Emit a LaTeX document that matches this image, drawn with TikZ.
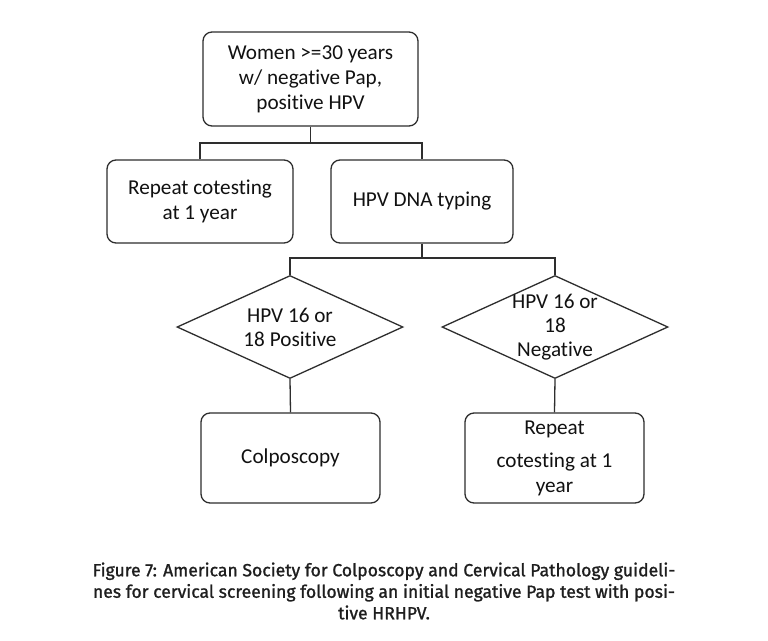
\documentclass[tikz,border=0pt]{standalone}
\usepackage{fontspec}
\setmainfont{Carlito}[Ligatures=NoCommon]
\newfontfamily\capfont{Fira Sans}[FakeBold=1.2]
\usetikzlibrary{shapes.geometric}
\definecolor{linec}{HTML}{2E2E2E}
\definecolor{textc}{HTML}{111111}
\definecolor{capc}{HTML}{1E1E1E}
\tikzset{
  boxstyle/.style={draw=linec, line width=1.3pt, rounded corners=9pt, inner sep=0pt, align=center, text=textc, font=\fontsize{21.2}{25}\selectfont},
  diastyle/.style={draw=linec, line width=1.3pt, shape=diamond, inner sep=0pt},
  txtstyle/.style={align=center, text=textc, inner sep=0pt, font=\fontsize{21.2}{24}\selectfont},
  conn/.style={draw=linec, line width=1.3pt},
  capstyle/.style={align=center, text=capc, inner sep=0pt, font=\capfont\fontsize{17.6}{21.5}\selectfont}
}
\begin{document}
\begin{tikzpicture}[x=1pt,y=-1pt]
\useasboundingbox[fill=white] (0,0) rectangle (768,640);
\node[boxstyle, minimum width=215pt, minimum height=94pt] (top) at (310.5,79) {Women >=30 years\\w/ negative Pap,\\positive HPV};
\node[boxstyle, minimum width=186pt, minimum height=83pt] (rep1) at (200,201.5) {Repeat cotesting\\at 1 year};
\node[boxstyle, minimum width=182pt, minimum height=83pt] (dna) at (422,201.5) {HPV DNA typing};
\node[diastyle, minimum width=226pt, minimum height=103pt] (dpos) at (290,327) {};
\node[txtstyle] (tpos) at (290,327) {HPV 16 or\\18 Positive};
\node[diastyle, minimum width=226pt, minimum height=103pt] (dneg) at (555,327) {};
\node[txtstyle] (tneg) at (555,327) {HPV 16 or\\18\\Negative};
\node[boxstyle, minimum width=179pt, minimum height=90pt] (colpo) at (290.5,458) {Colposcopy};
\node[boxstyle, minimum width=179pt, minimum height=90pt] (rep2) at (554.5,458) {Repeat\\[8pt]cotesting at 1\\year};
\node[capstyle] (cap) at (384,591) {Figure 7: American Society for Colposcopy and Cervical Pathology guideli-\\nes for cervical screening following an initial negative Pap test with posi-\\tive HRHPV.};
\coordinate (j1) at (310.5,143);
\coordinate (j2) at (422,258);
\draw[conn] (top.south) -- (j1);
\draw[conn] (rep1.north) |- (j1) -| (dna.north);
\draw[conn] (dna.south) -- (j2);
\draw[conn] (dpos.north) |- (j2) -| (dneg.north);
\draw[conn] (dpos.south) -- (colpo.north);
\draw[conn] (dneg.south) -- (rep2.north);
\end{tikzpicture}
\end{document}
